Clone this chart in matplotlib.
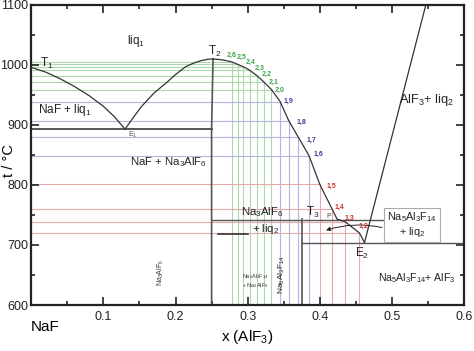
import matplotlib
matplotlib.use("Agg")
import matplotlib.pyplot as plt
from matplotlib.ticker import MultipleLocator

plt.rcParams['font.family'] = ['Liberation Sans', 'DejaVu Sans']
plt.rcParams['mathtext.fontset'] = 'custom'
plt.rcParams['mathtext.rm'] = 'Liberation Sans'
plt.rcParams['mathtext.it'] = 'Liberation Sans'
plt.rcParams['mathtext.default'] = 'regular'

# ---- data ----
# NaF liquidus (T1 -> E1)
naf_liq_x = [0.0, 0.02, 0.04, 0.06, 0.08, 0.10, 0.115, 0.13]
naf_liq_t = [996, 988, 977, 964, 949, 931, 914, 893]
# cryolite liquidus, left branch (E1 -> T2)
cry_left_x = [0.13, 0.14, 0.153, 0.17, 0.187, 0.20, 0.214, 0.225, 0.235, 0.245, 0.252]
cry_left_t = [893, 910, 931, 953, 970, 984, 997, 1003, 1007, 1009.5, 1010]
# cryolite liquidus, right branch points (molar ratio labels)
cr_labels = ['2,6', '2,5', '2,4', '2,3', '2,2', '2,1', '2,0',
             '1,9', '1,8', '1,7', '1,6', '1,5', '1,4', '1,3', '1,2']
cr_x = [0.278, 0.286, 0.294, 0.303, 0.313, 0.323, 0.333,
        0.345, 0.357, 0.370, 0.385, 0.400, 0.417, 0.435, 0.455]
cr_t = [1005, 1001, 997, 991, 982, 971, 959,
        939, 907, 880, 849, 801, 760, 739, 720]
cr_group = ['g'] * 7 + ['b'] * 4 + ['r'] * 4
# label positions for ratios
cr_lab_x = [0.278, 0.291, 0.304, 0.317, 0.326, 0.336, 0.345,
            0.357, 0.375, 0.389, 0.398, 0.416, 0.427, 0.441, 0.460]
cr_lab_t = [1016, 1012, 1004, 994, 984, 971, 958,
            939, 905, 875, 851, 798, 762, 744, 731]
# main liquidus beyond the ratio points
T2 = (0.252, 1010)
P = (0.424, 743)
E2 = (0.462, 704)
alf3_liq_x = [0.462, 0.547]
alf3_liq_t = [704, 1100]
E1 = (0.13, 893)

group_line = {'g': '#add8ad', 'b': '#b4b4e0', 'r': '#e6a9a9'}
group_text = {'g': '#3da34a', 'b': '#3c3c9c', 'r': '#d22a2a'}

fig = plt.figure(figsize=(4.74, 3.51), dpi=100)
ax = fig.add_axes([0.066, 0.131, 0.913, 0.855])
ax.set_xlim(0, 0.6)
ax.set_ylim(600, 1100)

# grid of ratio lines
for x, t, g in zip(cr_x, cr_t, cr_group):
    ax.plot([0, x], [t, t], color=group_line[g], lw=0.8, zorder=1)
    ax.plot([x, x], [600, t], color=group_line[g], lw=0.8, zorder=1)
for lab, lx, lt, g in zip(cr_labels, cr_lab_x, cr_lab_t, cr_group):
    ax.text(lx, lt, lab, color=group_text[g], fontsize=5, fontweight='bold',
            ha='center', va='center', zorder=4)

dark = '#333333'
# liquidus curves
ax.plot(naf_liq_x, naf_liq_t, color=dark, lw=0.9, zorder=3)
ax.plot(cry_left_x, cry_left_t, color=dark, lw=0.9, zorder=3)
right_x = [T2[0], 0.265] + cr_x[:13] + [P[0]] + cr_x[13:] + [E2[0]]
right_t = [T2[1], 1008.5] + cr_t[:13] + [P[1]] + cr_t[13:] + [E2[1]]
ax.plot(right_x, right_t, color=dark, lw=0.9, zorder=3)
ax.plot(alf3_liq_x, alf3_liq_t, color=dark, lw=0.9, zorder=3)

# invariant lines
ax.plot([0, 0.25], [E1[1], E1[1]], color='#555555', lw=1.4, zorder=2)
ax.plot([T2[0], 0.25, 0.25], [T2[1], 893, 600], color='#555555', lw=1.2, zorder=2)
ax.plot([0.25, 0.492], [741, 741], color='#555555', lw=1.0, zorder=2)
ax.plot([0.375, 0.375], [600, 744], color='#555555', lw=1.2, zorder=2)
ax.plot([0.375, 0.6], [704, 704], color='#555555', lw=1.0, zorder=2)
ax.plot([0.259, 0.30], [718, 718], color='#333333', lw=1.2, zorder=2)

# labels
fs = 8.5
tc = '#222222'
ax.text(0.145, 1040, r'liq$_1$', fontsize=fs, ha='center', va='center', color=tc)
ax.text(0.012, 1003, r'T$_1$', fontsize=fs, ha='left', va='center', color=tc)
ax.text(0.254, 1022, r'T$_2$', fontsize=fs, ha='center', va='center', color=tc)
ax.text(0.01, 925, r'NaF + liq$_1$', fontsize=fs, ha='left', va='center', color=tc)
ax.text(0.14, 883, r'E$_1$', fontsize=5, ha='center', va='center', color='#555555')
ax.text(0.19, 838, r'NaF + Na$_3$AlF$_6$', fontsize=8.2, ha='center', va='center', color=tc)
ax.text(0.32, 754, r'Na$_3$AlF$_6$', fontsize=8.2, ha='center', va='center', color=tc)
ax.text(0.325, 727, r'+ liq$_2$', fontsize=8.2, ha='center', va='center', color=tc)
ax.text(0.39, 755, r'T$_3$', fontsize=fs, ha='center', va='center', color=tc)
ax.text(0.412, 748, 'P', fontsize=5, ha='center', va='center', color='#444444')
ax.text(0.458, 686, r'E$_2$', fontsize=fs, ha='center', va='center', color=tc)
ax.text(0.548, 942, r'AlF$_3$+ liq$_2$', fontsize=9.3, ha='center', va='center', color=tc)
ax.text(0.535, 645, r'Na$_5$Al$_3$F$_{14}$+ AlF$_3$', fontsize=7.6, ha='center', va='center', color=tc)
ax.text(0.528, 734, 'Na$_5$Al$_3$F$_{14}$\n+ liq$_2$', fontsize=7.8, ha='center', va='center',
        color=tc, linespacing=1.1,
        bbox=dict(boxstyle='square,pad=0.25', fc='white', ec='#aaaaaa', lw=0.8), zorder=5)
ax.annotate('', xy=(0.405, 723), xytext=(0.49, 728),
            arrowprops=dict(arrowstyle='-|>', color='#222222', lw=0.7,
                            connectionstyle='arc3,rad=0.15', mutation_scale=6))
ax.text(0.18, 655, r'Na$_3$AlF$_6$', fontsize=5, rotation=90, ha='center', va='center', color='#333333')
ax.text(0.348, 650, r'Na$_5$Al$_3$F$_{14}$', fontsize=6, rotation=90, ha='center', va='center', color=tc)
ax.text(0.31, 640, 'Na$_5$Al$_3$F$_{14}$\n+ Na$_3$AlF$_6$', fontsize=4, ha='center', va='center',
        color='#333333', linespacing=1.0)

# axes styling
ax.xaxis.set_major_locator(MultipleLocator(0.1))
ax.xaxis.set_minor_locator(MultipleLocator(0.05))
ax.yaxis.set_major_locator(MultipleLocator(100))
ax.yaxis.set_minor_locator(MultipleLocator(50))
ax.tick_params(which='both', direction='in', top=True, right=True, width=1.2, colors='#222222')
ax.tick_params(which='major', length=6, labelsize=9, pad=4)
ax.tick_params(which='minor', length=3)
ax.set_xticks([0.1, 0.2, 0.3, 0.4, 0.5, 0.6])
ax.set_xticklabels(['0.1', '0.2', '0.3', '0.4', '0.5', '0.6'])
ax.tick_params(axis='y', pad=2)
for s in ax.spines.values():
    s.set_linewidth(1.6)
    s.set_color('#222222')
ax.set_ylabel('t / °C', fontsize=10.5)
ax.yaxis.set_label_coords(-0.036, 0.48)
ax.set_xlabel(r'x (AlF$_3$)', fontsize=11)
ax.xaxis.set_label_coords(0.5, -0.075)
fig.text(0.095, 0.068, 'NaF', fontsize=11, ha='center', va='center')

fig.savefig('out.png', dpi=100)
